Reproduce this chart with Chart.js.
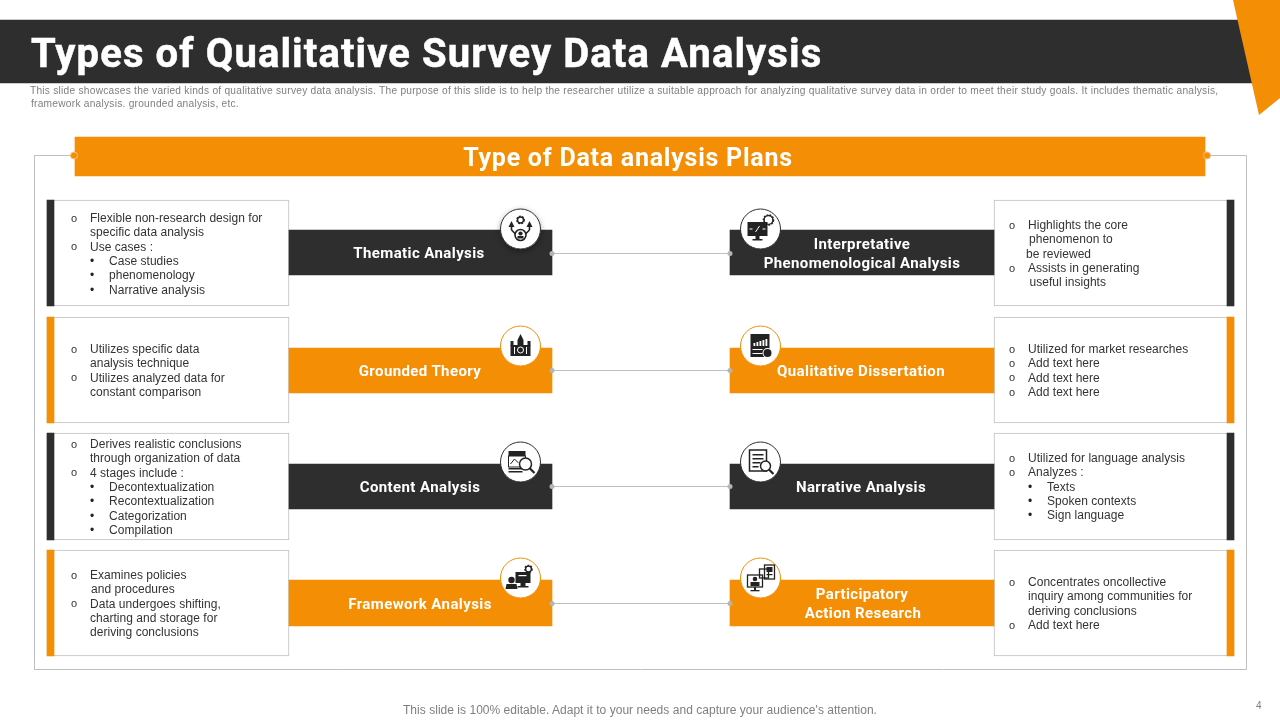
<!DOCTYPE html>
<html>
<head>
<meta charset="utf-8">
<title>Types of Qualitative Survey Data Analysis</title>
<script src="https://cdn.jsdelivr.net/npm/chart.js@4"></script>
<style>
    html, body { margin: 0; padding: 0; background: #fff; }
    #slide { position: relative; width: 1280px; height: 720px; overflow: hidden; }
    #slide canvas { position: absolute; left: 0; top: 0; }
    .t { position: absolute; white-space: pre; font-family: "Liberation Sans", Arial, sans-serif; }
    .h { font-family: Roboto, sans-serif; font-weight: 700; color: #fff; }
</style>
</head>
<body>
<div id="slide"><canvas id="slideChart" width="1280" height="720"></canvas></div>
<script>
const ORANGE = '#F48E04';
const DARK = '#2E2E2E';
const GREY = '#BFBFBF';

const titleText = 'Types of Qualitative Survey Data Analysis';
const descLines = [
    'This slide showcases the varied kinds of qualitative survey data analysis. The purpose of this slide is to help the researcher utilize a suitable approach for analyzing qualitative survey data in order to meet their study goals. It includes thematic analysis,',
    'framework analysis. grounded analysis, etc.'
];
const bannerText = 'Type of Data analysis Plans';
const footerText = "This slide is 100% editable. Adapt it to your needs and capture your audience's attention.";

const leftLabels = [['Thematic Analysis'], ['Grounded Theory'], ['Content Analysis'], ['Framework Analysis']];
const rightLabels = [['Interpretative', 'Phenomenological Analysis'], ['Qualitative Dissertation'], ['Narrative Analysis'], ['Participatory', 'Action Research']];

// o = round bullet, - = carry-on line, * = sub bullet
const leftNotes = [
    ['o Flexible non-research design for', '- specific data analysis', 'o Use cases :', '* Case studies', '* phenomenology', '* Narrative analysis'],
    ['o Utilizes specific data', '- analysis technique', 'o Utilizes analyzed data for', '- constant comparison'],
    ['o Derives realistic conclusions', '- through organization of data', 'o 4 stages include :', '* Decontextualization', '* Recontextualization', '* Categorization', '* Compilation'],
    ['o Examines policies', '- and procedures', 'o Data undergoes shifting,', '- charting and storage for', '- deriving conclusions']
];
const rightNotes = [
    ['o Highlights the core', '- phenomenon to', '- be reviewed', 'o Assists in generating', '- useful insights'],
    ['o Utilized for market researches', 'o Add text here', 'o Add text here', 'o Add text here'],
    ['o Utilized for language analysis', 'o Analyzes :', '* Texts', '* Spoken contexts', '* Sign language'],
    ['o Concentrates oncollective', '- inquiry among communities for', '- deriving conclusions', 'o Add text here']
];
const leftNoteStart = [218, 349, 444, 575];
const rightNoteStart = [225, 349, 458, 582];
// lines that sit a little off their column in the slide
const noteNudge = { 'and procedures': 1, 'phenomenon to': 1, 'be reviewed': -2, 'useful insights': 1.5 };

const cardTop = [200, 317, 433, 550];
const cardBottom = [306, 423, 540, 656];
const bandTop = [230, 348, 464, 580];
const bandBottom = [275, 393, 509, 626];
const linkY = [253.5, 370.5, 486.5, 603.5];
const badgeY = [229, 346, 462, 578];
const leftIcons = ['thematic', 'grounded', 'content', 'framework'];
const rightIcons = ['interpret', 'dissertation', 'narrative', 'participatory'];

const rowColor = i => (i % 2 === 0 ? DARK : ORANGE);
const span = (l, r, t, b) => ({ x: (l + r) / 2, y: [t, b] });

function barSet(label, width, points, color, order, extra) {
    return Object.assign({
        type: 'bar', label, data: points, barThickness: width, backgroundColor: color,
        grouped: false, borderSkipped: false, order
    }, extra || {});
}

function lineSet(label, points, order) {
    return {
        type: 'line', label, data: points, borderColor: GREY, borderWidth: 1,
        pointRadius: 0, tension: 0, order
    };
}

const rows = [0, 1, 2, 3];
const datasets = [
    barSet('title band', 1252, [span(0, 1252, 20, 83)], DARK, 100),
    {
        type: 'line', label: 'corner', order: 99, borderWidth: 0, pointRadius: 0, tension: 0,
        backgroundColor: ORANGE, fill: { value: 0 },
        data: [{ x: 1233, y: 0 }, { x: 1259, y: 115 }, { x: 1280, y: 98 }]
    },
    lineSet('frame', [
        { x: 74, y: 155.5 }, { x: 34.5, y: 155.5 }, { x: 34.5, y: 669.5 },
        { x: 1246.5, y: 669.5 }, { x: 1246.5, y: 155.5 }, { x: 1207, y: 155.5 }
    ], 98),
    barSet('banner', 1130, [span(75, 1205, 137, 176)], ORANGE, 97),
    barSet('left cards', 242, rows.map(i => span(47, 289, cardTop[i], cardBottom[i])), '#fff', 90, { borderColor: GREY, borderWidth: 1 }),
    barSet('right cards', 240, rows.map(i => span(994, 1234, cardTop[i], cardBottom[i])), '#fff', 90, { borderColor: GREY, borderWidth: 1 }),
    barSet('left accents', 7, rows.map(i => span(47, 54, cardTop[i], cardBottom[i])), rows.map(rowColor), 80),
    barSet('right accents', 7, rows.map(i => span(1227, 1234, cardTop[i], cardBottom[i])), rows.map(rowColor), 80),
    barSet('left bands', 263, rows.map(i => span(289, 552, bandTop[i], bandBottom[i])), rows.map(rowColor), 70),
    barSet('right bands', 264, rows.map(i => span(730, 994, bandTop[i], bandBottom[i])), rows.map(rowColor), 70)
];

rows.forEach(i => {
    datasets.push(lineSet('link ' + i, [{ x: 552, y: linkY[i] }, { x: 730, y: linkY[i] }], 60));
});

datasets.push({
    type: 'scatter', label: 'link dots', order: 50, pointRadius: 2.5, backgroundColor: '#B5B5B5', borderWidth: 0,
    data: rows.flatMap(i => [{ x: 552, y: linkY[i] }, { x: 730, y: linkY[i] }])
});
datasets.push({
    type: 'scatter', label: 'banner dots', order: 50, pointRadius: 3.5, backgroundColor: ORANGE,
    pointBorderColor: '#F7C27A', pointBorderWidth: 1,
    data: [{ x: 74, y: 155.5 }, { x: 1207, y: 155.5 }]
});
datasets.push({
    type: 'scatter', label: 'badges', order: 40, pointRadius: 20, backgroundColor: '#fff', pointBorderWidth: 1,
    pointBorderColor: rows.flatMap(i => [rowColor(i), rowColor(i)]),
    data: rows.flatMap(i => [{ x: 520.5, y: badgeY[i] }, { x: 760.5, y: badgeY[i] }])
});

// little glyphs inside the round badges
const icons = {
    thematic(c) {
        gear(c, 0, -9, 3.6);
        c.lineWidth = 1.6;
        line(c, -9, 1, -9, -3); line(c, -9, 1, -5, 5);
        line(c, 9, 1, 9, -3); line(c, 9, 1, 5, 5);
        tri(c, -9, -5, 3); tri(c, 9, -5, 3);
        c.beginPath(); c.arc(0, 6, 5.5, 0, 7); c.stroke();
        dot(c, 0, 4.5, 2.1);
        c.fillRect(-3, 7, 6, 2.5);
    },
    grounded(c) {
        c.fillRect(-10, -1, 20, 11);
        c.fillRect(-3, -6, 6, 6);
        c.beginPath(); c.moveTo(-3, -6); c.lineTo(0, -12); c.lineTo(3, -6); c.fill();
        c.fillRect(-10, -5, 3, 5); c.fillRect(7, -5, 3, 5);
        c.strokeStyle = '#fff'; c.lineWidth = 1;
        line(c, -6, 1, -6, 8); line(c, 6, 1, 6, 8);
        c.beginPath(); c.arc(0, 4, 3, 0, 7); c.stroke();
    },
    content(c) {
        c.fillRect(-12, -11, 17, 5);
        c.lineWidth = 1; c.strokeRect(-12, -6, 17, 11);
        line(c, -10, 2, -6, -3); line(c, -6, -3, -2, 1);
        c.fillRect(-12, 6, 14, 1.5); c.fillRect(-12, 9, 14, 1.5);
        glass(c, 5, 2, 6);
    },
    framework(c) {
        c.fillRect(-5, -6, 15, 11);
        c.fillRect(0, 5, 5, 3); c.fillRect(-3, 8, 11, 1.5);
        dot(c, -9, 2, 3.2);
        c.beginPath(); c.moveTo(-15, 11); c.lineTo(-14, 6); c.lineTo(-4, 6); c.lineTo(-3, 11); c.fill();
        gear(c, 8, -9, 3.5);
        c.fillStyle = '#fff'; c.fillRect(-2, -3, 8, 1.2);
    },
    interpret(c) {
        c.fillRect(-13, -7, 20, 14);
        c.fillRect(-5, 7, 4, 3); c.fillRect(-8, 10, 10, 1.5);
        gear(c, 8, -9, 5);
        c.strokeStyle = '#fff'; c.lineWidth = 1;
        line(c, -8, 0, -11, 0); line(c, -1, -3, -5, 3); line(c, 2, 0, 5, 0);
    },
    dissertation(c) {
        c.fillRect(-10, -12, 19, 23);
        c.fillStyle = '#fff';
        [-7, -4, -1, 2, 5].forEach((x, k) => c.fillRect(x, -3 - (k * 7) % 6, 1.8, 3 + (k * 7) % 6));
        c.fillRect(-8, 3, 10, 1); c.fillRect(-8, 7, 10, 1);
        dot(c, 7, 7, 5);
        c.fillStyle = '#222'; dot(c, 7, 7, 4);
    },
    narrative(c) {
        c.lineWidth = 1.5; c.strokeRect(-11, -12, 17, 21);
        c.fillRect(-8, -8, 11, 1.5); c.fillRect(-8, -4, 11, 1.5);
        c.fillRect(-8, 0, 8, 1.5); c.fillRect(-8, 4, 6, 1.5);
        glass(c, 5, 4, 5);
    },
    participatory(c) {
        c.lineWidth = 1.3; c.strokeRect(-13, -3, 15, 12);
        dot(c, -5.5, 1, 2.3);
        c.fillRect(-10, 4, 9, 4);
        c.fillRect(-6.5, 9, 2, 3); c.fillRect(-10, 12, 9, 1.3);
        c.strokeRect(-1, -9, 9, 9); c.strokeRect(4, -13, 10, 14);
        c.fillRect(6, -11, 6, 5);
        c.fillRect(6, -4, 6, 1.2);
    }
};

function line(c, x1, y1, x2, y2) { c.beginPath(); c.moveTo(x1, y1); c.lineTo(x2, y2); c.stroke(); }
function dot(c, x, y, r) { c.beginPath(); c.arc(x, y, r, 0, 7); c.fill(); }
function tri(c, x, y, r) { c.beginPath(); c.moveTo(x, y - r); c.lineTo(x + r, y + r); c.lineTo(x - r, y + r); c.fill(); }
function gear(c, x, y, r) {
    c.save(); c.lineWidth = 1.6; c.setLineDash([1.8, 1.2]);
    c.beginPath(); c.arc(x, y, r, 0, 7); c.stroke(); c.restore();
    c.save(); c.beginPath(); c.arc(x, y, r - 0.6, 0, 7); c.lineWidth = 1.4; c.stroke(); c.restore();
}
function glass(c, x, y, r) {
    c.fillStyle = '#fff'; dot(c, x, y, r);
    c.fillStyle = '#222'; c.lineWidth = 1.5;
    c.beginPath(); c.arc(x, y, r, 0, 7); c.stroke();
    c.lineWidth = 2.2; line(c, x + r * 0.7, y + r * 0.7, x + r + 3, y + r + 3);
}

const iconPlugin = {
    id: 'badgeIcons',
    beforeDatasetDraw(chart, args) {
        if (args.meta.label !== 'badges') return;
        // only the first badge of the slide has a soft shadow
        const c = chart.ctx;
        c.save();
        c.shadowColor = 'rgba(0,0,0,0.4)'; c.shadowBlur = 6; c.shadowOffsetY = 2; c.fillStyle = '#fff';
        c.beginPath();
        c.arc(chart.scales.x.getPixelForValue(520.5), chart.scales.y.getPixelForValue(badgeY[0]), 20, 0, 7);
        c.fill();
        c.restore();
    },
    afterDatasetsDraw(chart) {
        const c = chart.ctx;
        const put = (name, xv, yv) => {
            c.save();
            c.translate(chart.scales.x.getPixelForValue(xv), chart.scales.y.getPixelForValue(yv));
            c.fillStyle = '#222'; c.strokeStyle = '#222';
            icons[name](c);
            c.restore();
        };
        rows.forEach(i => {
            put(leftIcons[i], 520.5, badgeY[i]);
            put(rightIcons[i], 760.5, badgeY[i]);
        });
    }
};

new Chart(document.getElementById('slideChart').getContext('2d'), {
    type: 'bar',
    data: { datasets },
    plugins: [iconPlugin],
    options: {
        responsive: false,
        animation: false,
        events: [],
        layout: { padding: 0, autoPadding: false },
        scales: {
            x: { type: 'linear', min: 0, max: 1280, display: false, offset: false },
            y: { type: 'linear', min: 0, max: 720, reverse: true, display: false }
        },
        plugins: {
            legend: { display: false },
            tooltip: { enabled: false },
            filler: { drawTime: 'beforeDatasetDraw' }
        }
    }
});

// texts sit over the canvas
const slide = document.getElementById('slide');

function addText(text, x, y, size, opts) {
    const o = opts || {};
    const el = document.createElement('div');
    el.className = 't' + (o.head ? ' h' : '');
    el.textContent = text;
    el.style.fontSize = size + 'px';
    el.style.lineHeight = (size + 6) + 'px';
    el.style.top = (y - (size + 6) / 2) + 'px';
    el.style.left = x + 'px';
    if (o.color) el.style.color = o.color;
    if (o.spacing) el.style.letterSpacing = o.spacing + 'px';
    if (o.center) el.style.transform = 'translateX(-50%)';
    if (o.stroke) el.style.webkitTextStroke = o.stroke + 'px #fff';
    slide.appendChild(el);
}

addText(titleText, 31, 53.5, 40, { head: true, spacing: 1.1, stroke: 0.5 });
addText(descLines[0], 30, 91, 10.2, { color: '#7F7F7F', spacing: 0.24 });
addText(descLines[1], 31, 104, 10.2, { color: '#7F7F7F', spacing: 0.24 });
addText(bannerText, 628, 157.5, 25, { head: true, center: true, spacing: 0.75 });
addText(footerText, 403, 710, 12, { color: '#7F7F7F', spacing: 0.03 });
addText('4', 1256, 706, 10, { color: '#7F7F7F' });

const labelCenterL = [419, 420, 420, 420];
const labelCenterR = [862, 861, 861, 862];
rows.forEach(i => {
    const yL = (bandTop[i] + bandBottom[i]) / 2 + 1;
    addText(leftLabels[i][0], labelCenterL[i], yL, 15, { head: true, center: true, spacing: 0.4 });
    const lines = rightLabels[i];
    lines.forEach((s, k) => {
        const y = lines.length === 1 ? yL : yL + (k === 0 ? -9.5 : 9.5);
        addText(s, labelCenterR[i] + (i === 3 && k === 1 ? 1 : 0), y, 15, { head: true, center: true, spacing: 0.4 });
    });
});

function addNotes(notes, starts, x0) {
    notes.forEach((card, i) => {
        card.forEach((row, k) => {
            const kind = row[0];
            const text = row.slice(2);
            const y = starts[i] + k * 14.35;
            if (kind === 'o') addText('o', x0, y, 11, { color: '#333' });
            if (kind === '*') addText('•', x0 + 19, y, 12, { color: '#222' });
            addText(text, x0 + (kind === '*' ? 38 : 19) + (noteNudge[text] || 0), y, 12, { color: '#333', spacing: 0.03 });
        });
    });
}
addNotes(leftNotes, leftNoteStart, 71);
addNotes(rightNotes, rightNoteStart, 1009);
</script>
</body>
</html>
